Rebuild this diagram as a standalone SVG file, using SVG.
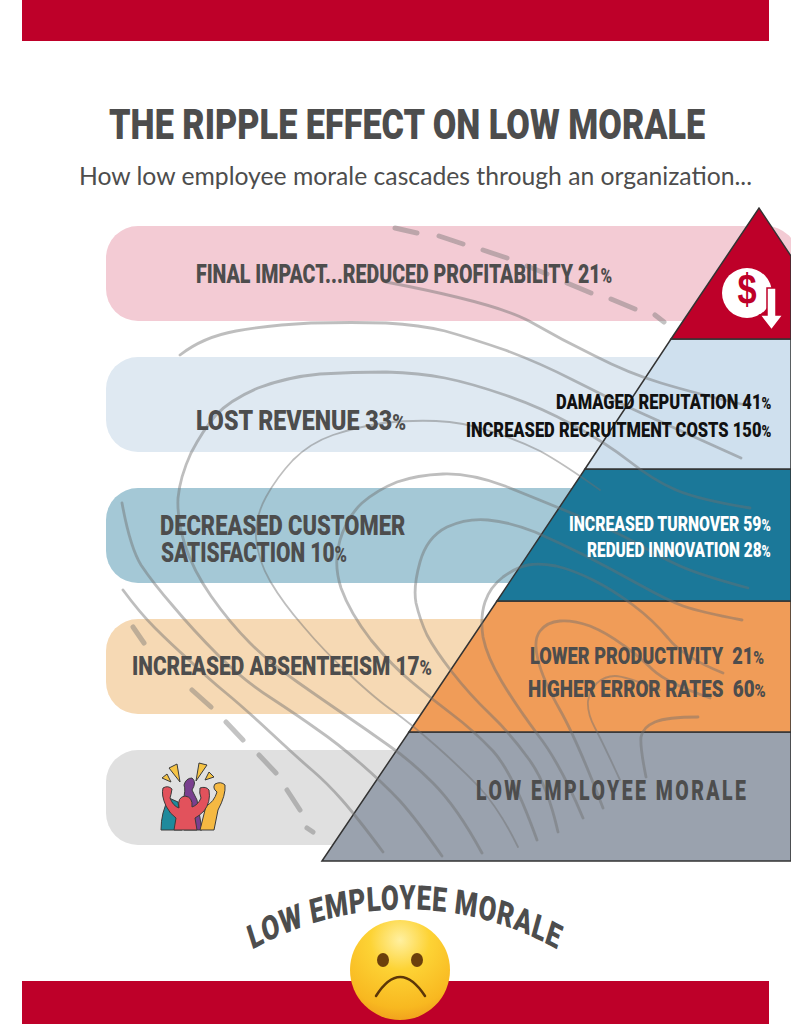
<svg xmlns="http://www.w3.org/2000/svg" width="791" height="1024" viewBox="0 0 791 1024">
  <style>
    .h { font-family: "Roboto", "Liberation Sans", sans-serif; font-weight: 900; fill: #4d4d4d; }
    .k { fill: #111; }
    .w { fill: #fff; }
    .pc { font-size: .8em; }
    .tier { stroke: #333; stroke-width: 1.5; }
    .contour { fill: none; stroke: #6f6f6f; stroke-opacity: .45; stroke-width: 2.8; stroke-linecap: round; }
    .thin { stroke-width: 1.8; }
    .dash { fill: none; stroke: #6f6f6f; stroke-opacity: .42; stroke-width: 5; stroke-linecap: round; }
    .fig { stroke: #3b3b3b; stroke-width: 1; stroke-linejoin: round; }
  </style>
  <defs>
    <radialGradient id="face" cx=".5" cy=".2" r=".85">
      <stop offset="0" stop-color="#fff0a0"/>
      <stop offset=".35" stop-color="#fdd335"/>
      <stop offset=".8" stop-color="#f8b820"/>
      <stop offset="1" stop-color="#ef9a1c"/>
    </radialGradient>
    <!-- baseline of the curved caption, widened so the narrowed text lands on a true circle -->
    <path id="arcText" d="M-316 1024A406.600 309 0 0 1 316 1024"/>
  </defs>

  <rect width="791" height="1024" fill="#fff"/>
  <rect x="22" y="0" width="747" height="41" fill="#be0029"/>
  <rect x="22" y="981" width="747" height="43" fill="#be0029"/>

  <g id="title">
    <text class="h" transform="translate(109 139) scale(.75 1)" font-size="43" textLength="795" lengthAdjust="spacingAndGlyphs">THE RIPPLE EFFECT ON LOW MORALE</text>
    <text x="79" y="185" font-family="Lato, sans-serif" font-size="25" fill="#4d4d4d" textLength="673" lengthAdjust="spacingAndGlyphs">How low employee morale cascades through an organization...</text>
  </g>

  <g id="bands">
    <rect x="106" y="226" width="692" height="95" rx="32" fill="#f3cbd4"/>
    <rect x="106" y="357" width="692" height="95" rx="32" fill="#dfe9f2"/>
    <rect x="106" y="488" width="692" height="95" rx="32" fill="#a4c8d6"/>
    <rect x="106" y="619" width="692" height="95" rx="32" fill="#f6d9b4"/>
    <rect x="106" y="750" width="692" height="95" rx="32" fill="#e0e0e0"/>
  </g>

  <g id="pyramid">
    <polygon class="tier" points="322,861 409,732 791,732 791,861" fill="#9aa2ae"/>
    <polygon class="tier" points="409,732 497,601 791,601 791,732" fill="#f09c58"/>
    <polygon class="tier" points="497,601 585,469 791,469 791,601" fill="#1b7899"/>
    <polygon class="tier" points="585,469 671,339 791,339 791,469" fill="#cfe0ee"/>
    <polygon class="tier" points="671,339 759,208 791,256 791,339" fill="#be0029"/>
  </g>

  <g id="connectors">
    <path class="contour" d="M386 282Q496 303 529 321Q562 340 595 356Q628 373 661 383Q694 393 745 405"/>
    <path class="contour" d="M180 355Q203 337 236 331Q270 325 311 323Q353 322 386 323Q420 325 445 331Q470 338 505 350Q540 363 573 380Q606 397 639 412Q672 427 741 458"/>
    <path class="contour" d="M482 853Q457 807 433 783Q410 760 388 745Q367 730 345 715Q323 700 296 681Q270 663 250 643Q230 623 211 596Q193 570 185 545Q177 520 178 498Q180 477 191 453Q203 430 216 415Q230 400 258 388Q287 377 320 374Q353 372 386 372Q420 373 445 378Q470 383 505 395Q540 407 573 425Q606 443 629 461Q653 480 676 490Q700 500 750 508"/>
    <path class="contour thin" d="M518 847Q500 810 480 788Q460 767 435 745Q410 723 393 711Q377 700 350 675Q323 650 303 626Q283 603 270 581Q258 560 256 538Q255 517 266 497Q277 477 293 460Q310 443 333 435Q357 427 383 423Q410 420 436 421Q463 422 490 431Q518 440 540 451Q562 463 600 490"/>
    <path class="contour" d="M122 503Q130 547 141 565Q153 583 173 606Q193 630 218 655Q243 680 271 698Q300 717 318 730Q337 743 360 763Q383 783 400 801Q417 820 442 856"/>
    <path class="contour" d="M123 590Q140 613 155 628Q170 643 190 661Q210 680 226 693Q243 707 271 733Q300 760 313 771Q327 783 342 800Q357 817 383 852"/>
    <path class="contour" d="M537 840Q513 773 493 751Q473 730 453 715Q433 700 413 683Q393 667 371 640Q350 613 341 588Q333 563 340 540Q347 517 362 503Q377 490 397 482Q417 475 443 474Q470 473 505 486Q540 500 576 515Q613 530 636 543Q660 557 680 566Q700 575 748 588"/>
    <path class="contour" d="M558 832Q547 783 528 758Q510 733 490 714Q470 695 452 672Q435 650 427 635Q420 620 416 603Q413 587 420 562Q427 537 447 527Q467 518 488 520Q510 522 535 532Q560 543 586 556Q613 570 640 585Q667 600 683 606Q700 612 742 620"/>
    <path class="contour" d="M583 818Q560 763 538 735Q517 707 502 682Q487 657 483 637Q480 617 485 602Q490 587 503 577Q517 567 528 565Q540 563 556 566Q573 570 593 580Q613 590 633 605Q653 620 668 638Q683 657 723 673"/>
    <path class="contour" d="M603 808Q577 740 560 710Q543 680 538 660Q533 640 540 631Q547 622 560 621Q573 620 590 626Q607 633 623 645Q640 657 653 670Q667 683 710 698"/>
    <path class="contour thin" d="M620 780Q603 743 595 728Q587 713 588 701Q590 690 597 683Q605 676 615 676Q625 676 660 690"/>
    <path class="contour" d="M698 717Q667 717 655 722Q643 727 641 737Q640 747 646 777"/>
    <path class="dash" d="M395 228L417 233M439 236L463 244M483 250L507 258M527 266L547 274M567 283L591 293M611 299L635 309M655 315L664 322"/>
    <path class="dash" d="M133 627L144 643M192 690L211 707M226 722L243 740M259 755L276 773M287 790L300 810M307 828L313 832"/>
  </g>

  <g id="band-labels">
    <text class="h" transform="translate(196 283) scale(.75 1)" font-size="25" textLength="555" lengthAdjust="spacingAndGlyphs">FINAL IMPACT...REDUCED PROFITABILITY 21<tspan class="pc">%</tspan></text>
    <text class="h" transform="translate(196 430) scale(.75 1)" font-size="27" textLength="280" lengthAdjust="spacingAndGlyphs">LOST REVENUE 33<tspan class="pc">%</tspan></text>
    <text class="h" transform="translate(160 535) scale(.75 1)" font-size="27" textLength="327" lengthAdjust="spacingAndGlyphs">DECREASED CUSTOMER</text>
    <text class="h" transform="translate(161 562) scale(.75 1)" font-size="27" textLength="248" lengthAdjust="spacingAndGlyphs">SATISFACTION 10<tspan class="pc">%</tspan></text>
    <text class="h" transform="translate(132 675) scale(.75 1)" font-size="26" textLength="400" lengthAdjust="spacingAndGlyphs">INCREASED ABSENTEEISM 17<tspan class="pc">%</tspan></text>
  </g>

  <g id="tier-labels">
    <text class="h k" transform="translate(556 409) scale(.75 1)" font-size="20" textLength="287" lengthAdjust="spacingAndGlyphs">DAMAGED REPUTATION 41<tspan class="pc">%</tspan></text>
    <text class="h k" transform="translate(466 437) scale(.75 1)" font-size="20" textLength="407" lengthAdjust="spacingAndGlyphs">INCREASED RECRUITMENT COSTS 150<tspan class="pc">%</tspan></text>
    <text class="h w" transform="translate(569 531) scale(.75 1)" font-size="20" textLength="269" lengthAdjust="spacingAndGlyphs">INCREASED TURNOVER 59<tspan class="pc">%</tspan></text>
    <text class="h w" transform="translate(587 557) scale(.75 1)" font-size="20" textLength="245" lengthAdjust="spacingAndGlyphs">REDUED INNOVATION 28<tspan class="pc">%</tspan></text>
    <text class="h" transform="translate(530 664) scale(.75 1)" font-size="23" textLength="312" lengthAdjust="spacingAndGlyphs" xml:space="preserve">LOWER PRODUCTIVITY  21<tspan class="pc">%</tspan></text>
    <text class="h" transform="translate(528 697) scale(.75 1)" font-size="23" textLength="317" lengthAdjust="spacingAndGlyphs" xml:space="preserve">HIGHER ERROR RATES  60<tspan class="pc">%</tspan></text>
    <text class="h" transform="translate(476 800) scale(.72 1)" font-size="27" textLength="375" lengthAdjust="spacing">LOW EMPLOYEE MORALE</text>
  </g>

  <g id="loss-icon">
    <circle cx="747" cy="293" r="25" fill="#fff"/>
    <text transform="translate(747 304) scale(.8 1)" font-family="Liberation Sans, sans-serif" font-weight="700" font-size="43" text-anchor="middle" fill="#be0029">$</text>
    <polygon points="767,288 776,288 776,315 783,315 771.500,330 760,315 767,315" fill="#fff" stroke="#be0029" stroke-width="1.500"/>
  </g>

  <g id="crowd-icon">
    <polygon class="fig" points="162,778 167,774 171,782" fill="#f6c445"/>
    <polygon class="fig" points="169,768 177,764 180,782" fill="#f6c445"/>
    <polygon class="fig" points="199,763 207,765 196,781" fill="#f6c445"/>
    <polygon class="fig" points="209,772 214,777 205,780" fill="#f6c445"/>
    <path class="fig" d="M161 830Q161 812 169 798L178 802L182 830Z" fill="#1f8a9c"/>
    <path class="fig" d="M184 830L183 800Q186 790 184 785Q186 778 192 778Q197 782 192 790L197 800L202 830Z" fill="#7a3f8f"/>
    <path class="fig" d="M200 830L206 806Q214 802 217 792Q212 788 215 784Q221 781 225 785Q226 795 218 810L214 830Z" fill="#f5b942"/>
    <path class="fig" d="M174 830L176 818Q170 814 166 806Q161 795 163 788Q168 785 172 789Q171 795 170 798Q173 806 179 808Q177 797 185 796Q193 797 192 807Q198 805 201 798Q199 793 200 788Q206 786 209 790Q211 802 204 811Q199 816 195 818L197 830Z" fill="#e2525c"/>
  </g>

  <g id="morale-badge">
    <text class="h" transform="translate(405 0) scale(.76 1)" font-size="34"><textPath href="#arcText" startOffset="50%" text-anchor="middle" letter-spacing="1">LOW EMPLOYEE MORALE</textPath></text>
    <circle cx="400" cy="970" r="50" fill="url(#face)"/>
    <ellipse cx="383" cy="960" rx="6" ry="7" fill="#6b3f0c"/>
    <ellipse cx="417" cy="960" rx="6" ry="7" fill="#6b3f0c"/>
    <path d="M376 996Q400 958 425 996" fill="none" stroke="#5c3608" stroke-width="2.500" stroke-linecap="round"/>
  </g>
</svg>
